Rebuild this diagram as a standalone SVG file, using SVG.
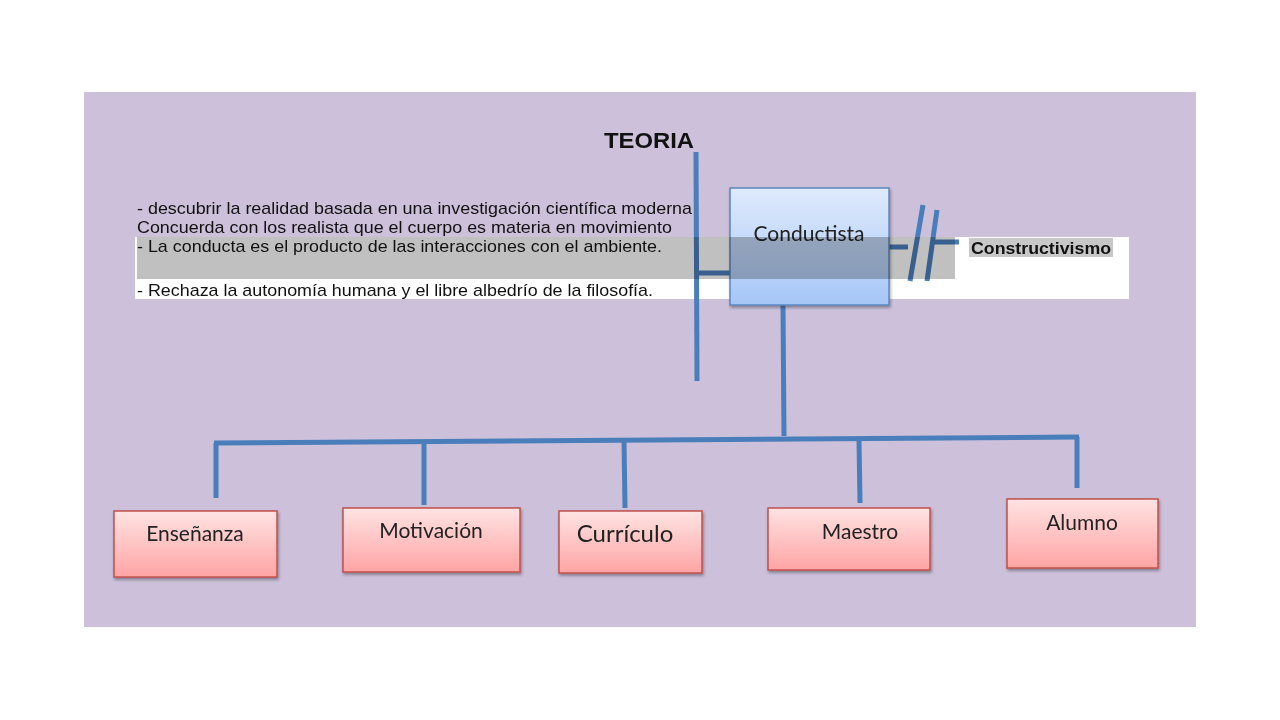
<svg xmlns="http://www.w3.org/2000/svg" width="1280" height="720" viewBox="0 0 1280 720">
<defs>
<linearGradient id="gBlue" x1="0" y1="0" x2="0" y2="1"><stop offset="0" stop-color="#dfeafc"/><stop offset="1" stop-color="#a6c6f7"/></linearGradient>
<linearGradient id="gPink" x1="0" y1="0" x2="0" y2="1"><stop offset="0" stop-color="#ffe3e3"/><stop offset="1" stop-color="#ffa4a4"/></linearGradient>
<filter id="sh" x="-10%" y="-10%" width="130%" height="140%"><feDropShadow dx="1" dy="2" stdDeviation="1.5" flood-color="#000" flood-opacity="0.35"/></filter>
</defs>
<style>
.ln{stroke:#4a7ebb;stroke-width:5;fill:none}
.txt{font-family:"Liberation Sans",Arial,sans-serif;font-size:17px;fill:#111}
.lbl{font-family:Lato,"Open Sans",sans-serif;font-size:21px;fill:#222;text-anchor:middle}
.pink{fill:url(#gPink);stroke:#c0504d;stroke-width:1.5}
</style>
<rect x="0" y="0" width="1280" height="720" fill="#ffffff"/>
<rect x="84" y="92" width="1112" height="535" fill="#ccc0da"/>
<rect x="135" y="237" width="994" height="62" fill="#ffffff"/>
<g id="connectors">
<line class="ln" x1="696" y1="152" x2="697" y2="381"/>
<line class="ln" x1="696" y1="273" x2="736" y2="273"/>
<line class="ln" x1="889" y1="247" x2="908" y2="247"/>
<line class="ln" x1="923" y1="205" x2="910" y2="281"/>
<line class="ln" x1="937" y1="210" x2="927" y2="281"/>
<line class="ln" x1="934" y1="242" x2="959" y2="242"/>
<line class="ln" x1="783" y1="305" x2="784" y2="436"/>
<line class="ln" x1="214" y1="443" x2="1079" y2="437"/>
<line class="ln" x1="216" y1="443" x2="216" y2="498"/>
<line class="ln" x1="424" y1="442" x2="424" y2="505"/>
<line class="ln" x1="624" y1="441" x2="625" y2="508"/>
<line class="ln" x1="859" y1="440" x2="860" y2="503"/>
<line class="ln" x1="1077" y1="437" x2="1077" y2="488"/>
</g>
<g id="conductista">
<rect x="730" y="188" width="159" height="117" fill="url(#gBlue)" stroke="#5a87c0" stroke-width="1.5" filter="url(#sh)"/>
<text class="lbl" x="809" y="241">Conductista</text>
</g>
<rect x="137" y="237" width="818" height="42" fill="#c0c0c0" style="mix-blend-mode:multiply"/>
<rect x="969" y="238" width="144" height="19" fill="#c8c8c8"/>
<g id="teoria">
<text x="604" y="148" textLength="90" lengthAdjust="spacingAndGlyphs" style="font-family:'Liberation Sans',Arial,sans-serif;font-size:22px;font-weight:bold;fill:#111">TEORIA</text>
<text class="txt" x="137" y="214" textLength="555" lengthAdjust="spacingAndGlyphs">- descubrir la realidad basada en una investigación científica moderna</text>
<text class="txt" x="137" y="233" textLength="535" lengthAdjust="spacingAndGlyphs">Concuerda con los realista que el cuerpo es materia en movimiento</text>
<text class="txt" x="137" y="252" textLength="525" lengthAdjust="spacingAndGlyphs">- La conducta es el producto de las interacciones con el ambiente.</text>
<text class="txt" x="137" y="296" textLength="516" lengthAdjust="spacingAndGlyphs">- Rechaza la autonomía humana y el libre albedrío de la filosofía.</text>
</g>
<g id="constructivismo">
<text x="971" y="254" textLength="140" lengthAdjust="spacingAndGlyphs" style="font-family:'Liberation Sans',Arial,sans-serif;font-size:17px;font-weight:bold;fill:#111">Constructivismo</text>
</g>
<g id="ensenanza"><rect class="pink" x="114" y="511" width="163" height="66" filter="url(#sh)"/><text class="lbl" x="195" y="541">Enseñanza</text></g>
<g id="motivacion"><rect class="pink" x="343" y="508" width="177" height="64" filter="url(#sh)"/><text class="lbl" x="431" y="538">Motivación</text></g>
<g id="curriculo"><rect class="pink" x="559" y="511" width="143" height="62" filter="url(#sh)"/><text class="lbl" x="625" y="542" style="font-size:24px">Currículo</text></g>
<g id="maestro"><rect class="pink" x="768" y="508" width="162" height="62" filter="url(#sh)"/><text class="lbl" x="860" y="539">Maestro</text></g>
<g id="alumno"><rect class="pink" x="1007" y="499" width="151" height="69" filter="url(#sh)"/><text class="lbl" x="1082" y="530">Alumno</text></g>
</svg>
